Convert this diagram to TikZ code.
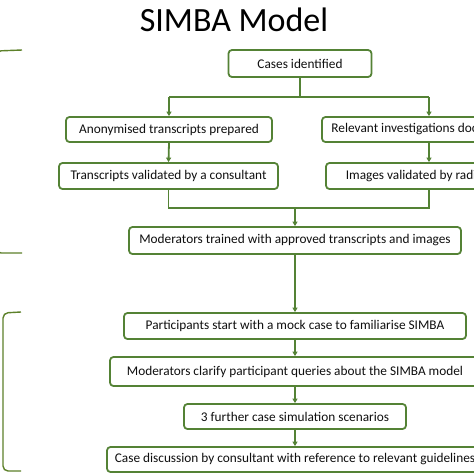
\documentclass[tikz,border=0pt]{standalone}
\usepackage{fontspec}
\setmainfont{Carlito}
\usetikzlibrary{arrows.meta}
\definecolor{boxgreen}{RGB}{84,130,53}
\definecolor{txt}{RGB}{15,15,15}
\begin{document}
\begin{tikzpicture}[x=1pt,y=-1pt,
  stepbox/.style={draw=boxgreen,line width=1.8pt,rounded corners=3.5pt,fill=white,
    inner sep=0pt,font=\fontsize{13.3}{15}\selectfont,text=txt,align=center},
  conn/.style={draw=boxgreen,line width=1.8pt},
  arr/.style={conn,-{Triangle[length=4.5pt,width=5pt]}},
  brace/.style={draw=boxgreen!80!olive,line width=1.4pt,rounded corners=5pt}]
\useasboundingbox (0,0) rectangle (474,474);
\clip (0,0) rectangle (474,474);
\fill[white] (0,0) rectangle (474,474);
\node[font=\fontsize{34}{38}\selectfont,text=black] (title) at (234,20) {SIMBA Model};
\node[stepbox,minimum width=143pt,minimum height=27pt] (cases) at (300,63.5) {Cases identified};
\node[stepbox,minimum width=206pt,minimum height=25pt] (anon) at (169,129.5) {Anonymised transcripts prepared};
\node[stepbox,minimum width=214pt,minimum height=25pt] (relev) at (429,129.5) {Relevant investigations documented};
\node[stepbox,minimum width=219pt,minimum height=26pt] (trans) at (168.5,176) {Transcripts validated by a consultant};
\node[stepbox,minimum width=206pt,minimum height=26pt] (images) at (429,176) {Images validated by radiologist};
\node[stepbox,minimum width=332pt,minimum height=27pt] (modtrain) at (295,240.5) {Moderators trained with approved transcripts and images};
\node[stepbox,minimum width=342pt,minimum height=26pt] (part) at (295,326) {Participants start with a mock case to familiarise SIMBA};
\node[stepbox,minimum width=370pt,minimum height=29pt] (modclar) at (295,371.5) {Moderators clarify participant queries about the SIMBA model};
\node[stepbox,minimum width=222pt,minimum height=25pt] (three) at (295,416.5) {3 further case simulation scenarios};
\node[stepbox,minimum width=376pt,minimum height=25pt] (casedisc) at (295,459.5) {Case discussion by consultant with reference to relevant guidelines};
\coordinate (split) at (300,97);
\coordinate (join) at (295,208);
\draw[conn] (cases.south) -- (split);
\draw[conn] (anon.north |- split) -- (relev.north |- split);
\draw[arr] (anon.north |- split) -- (anon.north);
\draw[arr] (relev.north |- split) -- (relev.north);
\draw[arr] (anon.south) -- (trans.north);
\draw[arr] (relev.south) -- (images.north);
\draw[conn] (trans.south) -- (trans.south |- join) -- (images.south |- join) -- (images.south);
\draw[arr] (join) -- (modtrain.north);
\draw[arr] (modtrain.south) -- (part.north);
\draw[arr] (part.south) -- (modclar.north);
\draw[arr] (modclar.south) -- (three.north);
\draw[arr] (three.south) -- (casedisc.north);
\draw[brace] (22,50) -- (-4,51) -- (-4,253) -- (22,253);
\draw[brace] (21,312) -- (3,313) -- (3,471) -- (21,471);
\end{tikzpicture}
\end{document}
